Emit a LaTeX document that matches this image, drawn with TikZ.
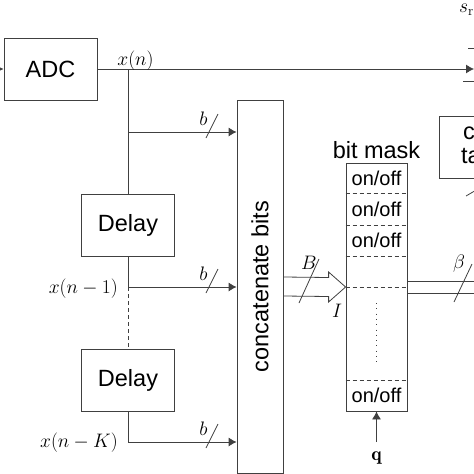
\documentclass[tikz,border=0pt]{standalone}
\usepackage{graphicx}
\usepackage{fontspec}
\setsansfont{Liberation Sans}
\usetikzlibrary{arrows.meta,calc}
\newcommand\mymath[1]{\scalebox{1.13}{$#1$}}
\begin{document}
\begin{tikzpicture}[x=1pt,y=-1pt,
  ln/.style={draw=black!75, line width=0.8pt},
  arr/.style={ln,-{Latex[length=8pt,width=9pt]}},
  txt/.style={inner sep=0pt, font=\sffamily\fontsize{23.5}{26}\selectfont},
  blk/.style={ln, txt},
  cell/.style={font=\sffamily\fontsize{20}{22}\selectfont, inner sep=0pt},
  mth/.style={font=\fontsize{17.28}{20}\selectfont, inner sep=0pt},
  divl/.style={draw=black!75, line width=0.8pt, dash pattern=on 4pt off 3pt}]
\useasboundingbox (0,0) rectangle (474,474);
\clip (0,0) rectangle (474,474);
% blocks
\node[blk, minimum width=93pt, minimum height=62pt] (adc) at (50.5,69) {ADC};
\node[blk, minimum width=93pt, minimum height=62pt] (d1) at (128,225) {Delay};
\node[blk, minimum width=93pt, minimum height=62pt] (d2) at (128,380) {Delay};
\node[blk, minimum width=46pt, minimum height=373pt] (cc) at (260,286.5) {};
\node[txt, rotate=90] (cct) at (cc.center) {concatenate bits};
\node[blk, minimum width=61pt, minimum height=248pt] (bm) at (376.5,287) {};
\node[blk, minimum width=91pt, minimum height=62pt] (tb) at (484.5,147) {};
% coordinates
\coordinate (inL) at (-10,69);
\coordinate (j0) at (128,69);
\coordinate (outR) at (474,69);
\coordinate (t0) at (128,132);
\coordinate (t1) at (128,287);
\coordinate (t2) at (128,442);
\coordinate (qs) at (376.5,442);
% connectors
\draw[arr] (inL) -- (adc.west);
\draw[arr] (adc.east) -- (outR);
\draw[ln] (j0) -- (d1.north);
\draw[arr] (t0) -- (cc.west |- t0);
\draw[ln] (d1.south) -- (t1);
\draw[arr] (t1) -- (cc.west |- t1);
\draw[ln, dash pattern=on 4pt off 3pt] (t1) -- (d2.north);
\draw[arr] (d2.south) |- (cc.west |- t2);
% bus slashes b
\foreach \yy in {132,287,442}{
  \draw[ln] (206,\yy+6) -- (218,\yy-18);
  \node[mth] at (203.5,\yy-13) {\mymath{b}};
}
% double arrow B
\draw[ln] ($(cc.east)+(0,-9.5)$) -- ($(bm.west)+(-17,-9.5)$) -- ($(bm.west)+(-17,-15)$)
  -- (bm.west) -- ($(bm.west)+(-17,15)$) -- ($(bm.west)+(-17,9.5)$) -- ($(cc.east)+(0,9.5)$);
\draw[ln] (299,303) -- (319,259);
\node[mth] at (309,263) {\mymath{B}};
\node[mth] at (337,311) {\mymath{I}};
% bit mask
\node[txt, anchor=base] (bml) at (376.5,158) {bit mask};
\foreach \yy in {193,225,256,287,380}{
  \draw[divl] (bm.west |- 0,\yy) -- (bm.east |- 0,\yy);
}
\node[cell] at (376.5,178) {on/off};
\node[cell] at (376.5,209) {on/off};
\node[cell] at (376.5,240.5) {on/off};
\node[cell] at (376.5,395.5) {on/off};
\draw[draw=black!75, line width=0.8pt, dash pattern=on 0.8pt off 4.5pt] (376.5,303) -- (376.5,364);
% q
\draw[arr] (qs) -- (bm.south);
\node[mth] at (376.5,458) {\mymath{\mathbf{q}}};
% output beta
\draw[ln] ($(bm.east)+(0,-6)$) -- (474,281);
\draw[ln] ($(bm.east)+(0,6)$) -- (474,293);
\draw[ln] (454,302) -- (472,264);
\node[mth] at (459,264) {\mymath{\beta}};
% labels
\node[mth] at (135.5,61) {\mymath{x(n)}};
\node[mth, anchor=east] at (118,289) {\mymath{x(n-1)}};
\node[mth, anchor=east] at (118,443) {\mymath{x(n-K)}};
% cut-off items at right
\node[mth, anchor=west] at (459,10) {\mymath{s_{\mathrm{r}}}};
\draw[ln] (468,48) -- (480,48);
\draw[ln] (463,81) -- (480,81);
\node[txt, anchor=west] at (463,133) {c};
\node[txt, anchor=west] at (461,156) {ta};
\draw[ln] (466,196) -- (478,189);
\end{tikzpicture}
\end{document}
